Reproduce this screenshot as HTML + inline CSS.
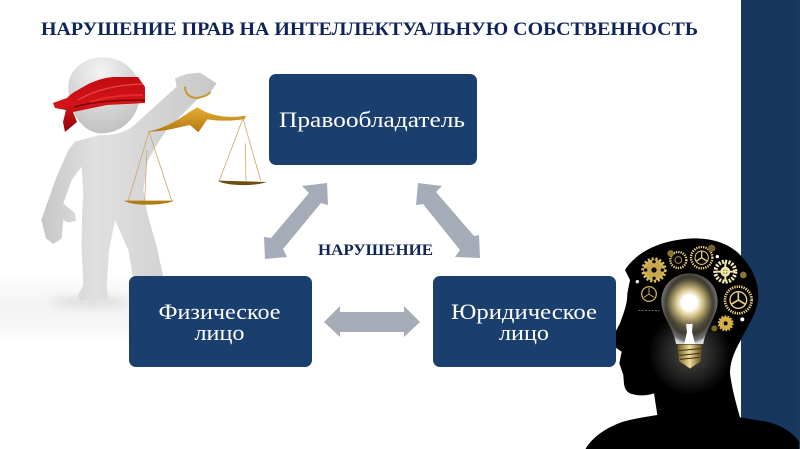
<!DOCTYPE html>
<html lang="ru"><head><meta charset="utf-8"><title>Нарушение прав</title>
<style>html,body{margin:0;padding:0;background:#fff;width:800px;height:449px;overflow:hidden}svg{display:block}</style></head>
<body>
<svg xmlns="http://www.w3.org/2000/svg" width="800" height="449" viewBox="0 0 800 449">
<defs>
<linearGradient id="gr" x1="0" y1="0" x2="0" y2="1"><stop offset="0" stop-color="#fff"/><stop offset=".5" stop-color="#f3f3f3"/><stop offset=".8" stop-color="#f9f9f9"/><stop offset="1" stop-color="#fff"/></linearGradient>
<linearGradient id="body" x1="0" y1="0" x2="1" y2="0"><stop offset="0" stop-color="#c6c6c6"/><stop offset=".3" stop-color="#e0e0e0"/><stop offset=".55" stop-color="#d8d8d8"/><stop offset="1" stop-color="#c8c8c8"/></linearGradient>
<radialGradient id="head" cx=".45" cy=".2" r=".85"><stop offset="0" stop-color="#f4f4f4"/><stop offset="1" stop-color="#bdbdbd"/></radialGradient>
<linearGradient id="red" x1="0" y1="0" x2="0" y2="1"><stop offset="0" stop-color="#c20c11"/><stop offset=".5" stop-color="#d3141a"/><stop offset="1" stop-color="#8f0609"/></linearGradient>
<linearGradient id="gold" x1="0" y1="0" x2="0" y2="1"><stop offset="0" stop-color="#e8ac33"/><stop offset="1" stop-color="#b07a14"/></linearGradient>
<radialGradient id="glow"><stop offset="0" stop-color="#4a4a47"/><stop offset=".55" stop-color="#252524"/><stop offset="1" stop-color="#000"/></radialGradient>
<radialGradient id="bulb" cx=".5" cy=".45" r=".55"><stop offset="0" stop-color="#b7a565"/><stop offset=".4" stop-color="#77704e"/><stop offset=".75" stop-color="#3e3b30"/><stop offset=".93" stop-color="#77777a"/><stop offset="1" stop-color="#d8d8d8"/></radialGradient>
<radialGradient id="halo"><stop offset="0" stop-color="#fff"/><stop offset=".32" stop-color="#fff"/><stop offset=".55" stop-color="#f0dca0" stop-opacity=".8"/><stop offset="1" stop-color="#b8a258" stop-opacity="0"/></radialGradient>
<linearGradient id="base" x1="0" y1="0" x2="1" y2="0"><stop offset="0" stop-color="#6e5a22"/><stop offset=".5" stop-color="#efdc96"/><stop offset="1" stop-color="#5c4a1a"/></linearGradient>
<filter id="b" x="-50%" y="-100%" width="200%" height="300%"><feGaussianBlur stdDeviation="5"/></filter>
</defs>
<rect width="800" height="449" fill="#fff"/>
<rect x="741" y="0" width="59" height="449" fill="#17375e"/>
<rect x="796" y="0" width="4" height="449" fill="#1b3a60"/>
<rect x="0" y="270" width="135" height="74" fill="url(#gr)"/>
<ellipse cx="90" cy="302" rx="40" ry="4" fill="#d6d6d6" filter="url(#b)"/>

<!-- figure -->
<g transform="translate(0,50) scale(.33333)">
<path d="M300 255 C340 258 375 245 395 232 L530 110 L525 85 L560 72 L600 68 L650 100 L625 135 L590 150 L500 240 L470 285 L442 335 L430 420 L442 490 L470 590 L492 690 L400 690 L385 600 L345 510 L327 600 L320 712 L325 750 L240 752 L235 735 L250 705 L245 600 L246 500 L250 430 L245 350 L215 390 L190 460 L225 490 L228 512 L205 518 L190 510 L185 565 L160 582 L138 565 L124 510 L145 450 L170 380 L205 300 L225 275 Z" fill="url(#body)"/>
<path d="M205 110 C205 60 250 22 310 22 C375 22 420 70 420 130 C420 195 370 250 305 250 C250 250 205 190 205 110Z" fill="url(#head)"/>
</g>
<path d="M53 103 L67 98 C73 92 78 90 83 87 C93 81 103 78 113 77 L138 77 L145 87 L145 103 L107 105 L73 112 L77 122 L65 132 L63 122 L66 110 L55 108Z" fill="url(#red)"/>
<path d="M78 100 C95 90 115 85 143 84" fill="none" stroke="#e9454a" stroke-width="1.3"/>
<path d="M90 102 C110 96 125 95 143 95" fill="none" stroke="#e9282d" stroke-width="2"/>
<path d="M74 107 C95 101 120 100 145 100" fill="none" stroke="#7e0508" stroke-width="1.5"/>
<g transform="translate(0,50) scale(.33333)">
<!-- scale -->
<path d="M555 110 C555 135 575 148 600 142 C620 138 630 130 630 125" fill="none" stroke="#c79a32" stroke-width="6"/>
<path d="M440 245 C500 235 540 205 570 185 L592 172 L615 185 C650 200 690 205 737 197 L735 207 C690 215 650 212 622 208 L595 247 L570 225 C540 230 500 245 440 245Z" fill="url(#gold)"/>
<g fill="none" stroke="#c9a868" stroke-width="2.4">
<path d="M447 245 L385 452 M447 245 L515 452 M441 300 L434 452"/>
<path d="M729 205 L658 392 M729 205 L782 392 M736 280 L738 392"/>
</g>
<path d="M372 452 L522 452 C500 466 400 470 372 452Z" fill="#b27c12"/>
<path d="M653 392 L800 396 C770 408 680 410 653 392Z" fill="#6e4e0e"/>
</g>

<!-- head silhouette -->
<g transform="translate(580,220) scale(.33333)">
<path d="M340 55 C400 55 440 70 470 95 C510 130 535 180 535 225 C535 280 500 320 480 365 C460 400 450 430 450 460 C455 500 465 540 480 592 L560 605 C610 618 640 640 657 665 L657 690 L15 690 C30 660 70 625 130 605 C165 595 200 590 232 585 L222 520 C200 528 170 528 150 520 C130 510 132 490 130 465 L118 430 L125 395 L88 370 L120 310 C130 280 142 255 142 220 L150 180 L135 150 C160 110 220 60 340 55Z" fill="#000"/>
<circle cx="330" cy="400" r="125" fill="url(#glow)"/>
<!-- gears -->
<g fill="none" stroke="#e8cf7e">
<circle cx="222" cy="150" r="32" fill="#c9a94e" stroke="#d8bb62" stroke-width="12" stroke-dasharray="6 5"/>
<circle cx="222" cy="150" r="8" fill="#000" stroke="none"/>
<circle cx="197" cy="150" r="5" fill="#000" stroke="none"/><circle cx="247" cy="150" r="5" fill="#000" stroke="none"/>
<circle cx="222" cy="125" r="5" fill="#000" stroke="none"/><circle cx="222" cy="175" r="5" fill="#000" stroke="none"/>
<circle cx="295" cy="120" r="24" stroke-width="7" stroke-dasharray="4 3"/>
<circle cx="295" cy="120" r="10" stroke-width="3" stroke="#a58a3c"/>
<circle cx="365" cy="113" r="32" stroke-width="7" stroke-dasharray="4 3"/>
<circle cx="365" cy="113" r="20" stroke-width="3"/>
<path d="M365 113 L365 93 M365 113 L348 124 M365 113 L382 124" stroke-width="4"/>
<circle cx="436" cy="155" r="30" stroke="#f3e9b8" stroke-width="12" stroke-dasharray="6 4"/>
<circle cx="436" cy="155" r="11" stroke="#f0e2a4" stroke-width="8"/>
<path d="M436 125 V185 M406 155 H466" stroke="#f0e2a4" stroke-width="6"/>
<circle cx="475" cy="240" r="40" stroke-width="8" stroke-dasharray="4 3"/>
<circle cx="475" cy="240" r="25" stroke-width="4"/>
<path d="M475 240 V217 M475 240 L455 252 M475 240 L495 252" stroke-width="5"/>
<circle cx="437" cy="310" r="20" fill="#d4b04c" stroke="#d4b04c" stroke-width="8" stroke-dasharray="5 4"/>
<circle cx="437" cy="310" r="6" fill="#000" stroke="none"/>
<circle cx="207" cy="222" r="22" stroke-width="4" stroke="#c8ad5c"/>
<path d="M207 222 V204 M207 222 L192 232 M207 222 L222 232" stroke-width="3" stroke="#c8ad5c"/>
<circle cx="490" cy="165" r="10" fill="#8a7430" stroke="none"/>
<circle cx="403" cy="325" r="9" fill="#7a6628" stroke="none"/>
<circle cx="395" cy="85" r="11" fill="#75632a" stroke="none"/>
<circle cx="272" cy="100" r="10" fill="#8a7430" stroke="none"/>
<circle cx="172" cy="185" r="5" fill="#fff" stroke="none"/>
<circle cx="487" cy="298" r="6" fill="#fff" stroke="none"/>
<circle cx="412" cy="110" r="5" fill="#fff" stroke="none"/>
<path d="M175 271 H238" stroke="#aaa" stroke-width="2" stroke-dasharray="6 4"/>
</g>
<!-- bulb -->
<path d="M328 160 C375 160 413 195 413 245 C413 290 378 320 370 372 L288 372 C280 320 244 290 244 245 C244 195 282 160 328 160Z" fill="url(#bulb)"/>
<circle cx="328" cy="248" r="72" fill="url(#halo)"/>
<path d="M318 312 L338 312 L336 335 L345 372 L313 372 L321 335Z" fill="#fff"/>
<path d="M292 374 L366 374 L362 425 L345 435 L330 446 L315 435 L298 425Z" fill="url(#base)"/>
<path d="M296 392 L362 386 M298 406 L360 400 M300 418 L358 412" stroke="#3a2f10" stroke-width="3"/>
</g>

<!-- boxes -->
<g fill="#1a3f6f">
<rect x="269" y="74" width="208" height="91" rx="7"/>
<rect x="129" y="276" width="183" height="91" rx="7"/>
<rect x="433" y="276" width="183" height="91" rx="7"/>
</g>

<!-- arrows -->
<g fill="#a6abb8">
<path d="M324 322 L340 306 L340 312 L404 312 L404 306 L420 322 L404 337 L404 332 L340 332 L340 337Z"/>
<path d="M327 183 L302 186 L309 193 L271 238 L264 237 L265 259 L287 257 L283 249 L321 203 L328 205Z"/>
<path d="M418 183 L442 186 L436 192 L474 236 L479 235 L480 258 L455 257 L460 250 L423 204 L416 205Z"/>
</g>

<!-- text -->
<g font-family="'Liberation Serif','DejaVu Serif',serif" fill="#fff" font-size="22.500" text-anchor="middle">
<text x="372" y="127" textLength="186" lengthAdjust="spacingAndGlyphs">Правообладатель</text>
<text x="219.500" y="319" textLength="122" lengthAdjust="spacingAndGlyphs">Физическое</text>
<text x="219.500" y="340" textLength="50" lengthAdjust="spacingAndGlyphs">лицо</text>
<text x="524" y="319" textLength="146" lengthAdjust="spacingAndGlyphs">Юридическое</text>
<text x="524" y="340" textLength="50" lengthAdjust="spacingAndGlyphs">лицо</text>
</g>
<g font-family="'Liberation Serif','DejaVu Serif',serif" font-weight="bold" fill="#0f2458">
<text x="41" y="35" font-size="19" textLength="657" lengthAdjust="spacingAndGlyphs">НАРУШЕНИЕ ПРАВ НА ИНТЕЛЛЕКТУАЛЬНУЮ СОБСТВЕННОСТЬ</text>
<text x="318" y="255" font-size="16" textLength="115" lengthAdjust="spacingAndGlyphs">НАРУШЕНИЕ</text>
</g>
</svg>
</body></html>
